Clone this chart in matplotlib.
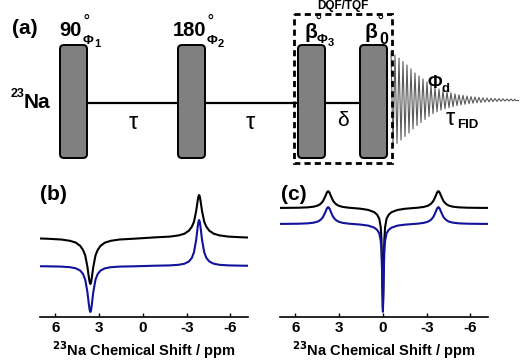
import matplotlib.pyplot as plt
import numpy as np
from matplotlib.patches import FancyBboxPatch, Rectangle

plt.rcParams['font.family'] = ['Liberation Sans', 'DejaVu Sans']

# ---- data ----
# panel (b): chemical shift (ppm) and trace heights (arbitrary units, traces offset)
ppm_b = [7.05, 6.6, 5.6, 5.0, 4.6, 4.3, 4.1, 3.95, 3.8, 3.7, 3.65, 3.6, 3.55, 3.5, 3.4,
         3.25, 3.1, 2.9, 2.6, 2.2, 1.6, 0.6,
         -0.85, -1.85, -2.45, -2.85, -3.15, -3.35, -3.5, -3.65, -3.75, -3.8, -3.85,
         -3.9, -3.95, -4.05, -4.2, -4.35, -4.55, -4.85, -5.25, -5.85, -6.85, -7.2]
exp_b = [78.5, 78.3, 77.5, 76.2, 74.4, 71.2, 67.0, 61.5, 50.0, 39.4, 34.8, 33.0, 34.8,
         39.4, 50.0, 61.5, 67.0, 71.2, 74.4, 76.2, 77.5, 78.3,
         79.65, 80.4, 81.6, 83.3, 86.3, 90.2, 95.3, 106.1, 116.0, 120.3, 122.0, 120.3,
         116.0, 106.1, 95.3, 90.2, 86.3, 83.3, 81.6, 80.4, 79.65, 79.5]
sim_b = [50.75, 50.7, 50.4, 49.8, 48.7, 46.5, 42.95, 37.2, 24.8, 12.4, 7.1, 5.0, 7.1,
         12.4, 24.8, 37.2, 42.95, 46.5, 48.7, 49.8, 50.4, 50.7,
         51.3, 51.6, 52.2, 53.3, 55.5, 59.05, 64.8, 77.2, 89.6, 94.9, 97.0, 94.9, 89.6,
         77.2, 64.8, 59.05, 55.5, 53.3, 52.2, 51.6, 51.3, 51.25]

# panel (c)
ppm_c = [7.05, 6.75, 5.75, 5.15, 4.75, 4.45, 4.25, 4.1, 3.95, 3.85, 3.8, 3.75, 3.7, 3.65,
         3.55, 3.4, 3.25, 3.05, 2.75, 2.35, 1.75, 1.5, 1.0, 0.6, 0.4, 0.25, 0.15, 0.1,
         0.06, 0.03, 0.0, -0.03, -0.06, -0.1, -0.15, -0.25, -0.4, -0.6, -1.0, -1.5, -1.8,
         -2.4, -2.8, -3.1, -3.3, -3.45, -3.6, -3.7, -3.75, -3.8, -3.85, -3.9, -4.0, -4.15,
         -4.3, -4.5, -4.8, -5.2, -5.8, -6.8, -7.2]
sim_c = [93.1, 93.12, 93.29, 93.66, 94.3, 95.5, 97.4, 100.0, 104.57, 108.16, 109.36,
         109.84, 109.34, 108.13, 104.53, 99.92, 97.3, 95.36, 94.11, 93.35, 92.67, 92.35,
         91.36, 89.4, 87.24, 83.6, 76.25, 65.7, 46.3, 21.6, 5.2, 21.6, 46.3, 65.7, 76.25,
         83.6, 87.24, 89.4, 91.37, 92.35, 92.69, 93.37, 94.12, 95.36, 97.3, 99.92, 104.53,
         108.14, 109.34, 109.84, 109.34, 108.14, 104.57, 99.98, 97.4, 95.5, 94.3, 93.66,
         93.29, 93.12, 93.1]
exp_c = [109.09, 109.11, 109.28, 109.65, 110.29, 111.48, 113.37, 115.96, 120.55, 124.14,
         125.33, 125.82, 125.32, 124.11, 120.51, 115.9, 113.28, 111.33, 110.07, 109.3,
         108.57, 108.22, 107.06, 104.9, 102.39, 98.3, 89.9, 78.0, 55.9, 27.9, 9.2, 27.9,
         55.9, 78.0, 89.9, 98.3, 102.39, 104.9, 107.07, 108.22, 108.6, 109.32, 110.08,
         111.33, 113.28, 115.9, 120.51, 124.12, 125.32, 125.82, 125.33, 124.14, 120.55,
         115.96, 113.37, 111.48, 110.29, 109.65, 109.28, 109.11, 109.09]

ticks = [6, 3, 0, -3, -6]
tick_labels = ["6", "3", "0", "-3", "-6"]

# pulse sequence (pixel layout of the schematic)
pulse_left = [60, 178, 298, 360]
pulse_width = 27
pulse_top, pulse_bottom = 45, 158
fid_amp = [48, 46.5, 45, 43.5, 42, 40, 38.5, 36.5, 35, 33, 31, 29, 27, 25.5, 24, 22.5,
           21, 19.5, 18, 16.5, 15, 13.7, 12.7, 11.8, 11, 10.2, 9.4, 8.8, 8.2, 7.6, 7.1,
           6.6, 6.1, 5.6, 5.2, 4.9, 4.6, 4.3, 4, 3.7, 3.4, 3.2, 3, 2.8, 2.6, 2.5, 2.3,
           2.2, 2, 1.9, 1.7, 1.6, 1.5, 1.4, 1.3, 1.2, 1.15, 1.1, 1.0, 1.0, 0.9, 0.9, 0.8]

BLUE = "#12129c"

fig = plt.figure(figsize=(5.2, 3.61), dpi=100)

# ---- (a) pulse sequence, drawn in pixel coordinates ----
ax = fig.add_axes([0, 0, 1, 1])
ax.set_xlim(0, 520)
ax.set_ylim(361, 0)
ax.axis("off")

ax.plot([pulse_left[0] + 10, pulse_left[3] + 10], [103, 103], color="black", lw=1.6, zorder=1)
for x0 in pulse_left:
    ax.add_patch(FancyBboxPatch((x0 + 2, pulse_top + 2), pulse_width - 4, pulse_bottom - pulse_top - 4,
                                boxstyle="round,pad=2,rounding_size=4",
                                fc="#808080", ec="black", lw=1.4, zorder=2))
ax.add_patch(Rectangle((294, 14), 98, 149, fill=False, ec="black", lw=2.0,
                       ls=(0, (2.2, 1.5)), zorder=3))

fid_x = 391 + 2 * np.arange(len(fid_amp))
fid_y = 100 + np.array(fid_amp) * np.where(np.arange(len(fid_amp)) % 2 == 0, -1, 1)
ax.plot(fid_x, fid_y, color="#5a5a5a", lw=0.8, zorder=2)
ax.plot([fid_x[-1], 518], [100, 100], color="#5a5a5a", lw=0.8)

ax.text(12, 29, "(a)", fontsize=15, fontweight="bold", va="center", ha="left")
ax.text(343, 6, "DQF/TQF", fontsize=8.5, fontweight="bold", ha="center", va="center")

# pulse labels: main, degree, subscript
deg = dict(fontsize=11, family="DejaVu Sans", va="center", ha="left")
ax.text(59, 31, "90", fontsize=14.5, fontweight="bold", va="center", ha="left")
ax.text(82, 21, "°", **deg)
ax.text(83, 41, "Φ", fontsize=9.5, fontweight="bold", va="center", ha="left")
ax.text(94, 44, "1", fontsize=8, fontweight="bold", va="center", ha="left")

ax.text(173, 31, "180", fontsize=14.5, fontweight="bold", va="center", ha="left")
ax.text(206, 21, "°", **deg)
ax.text(207, 41, "Φ", fontsize=9.5, fontweight="bold", va="center", ha="left")
ax.text(218, 44, "2", fontsize=8, fontweight="bold", va="center", ha="left")

ax.text(304, 32, "β", fontsize=15, fontweight="bold", va="center", ha="left")
ax.text(315, 21, "°", **deg)
ax.text(317, 40, "Φ", fontsize=9.5, fontweight="bold", va="center", ha="left")
ax.text(328, 43, "3", fontsize=8, fontweight="bold", va="center", ha="left")

ax.text(365, 32, "β", fontsize=15, fontweight="bold", va="center", ha="left")
ax.text(377, 21, "°", **deg)
ax.text(379, 39, "0", fontsize=11.5, fontweight="bold", va="center", ha="left")

ax.text(11, 94, "23", fontsize=9, fontweight="bold", va="center", ha="left")
ax.text(24, 103, "Na", fontsize=15, fontweight="bold", va="center", ha="left")

ax.text(133, 123, "τ", fontsize=17, ha="center", va="center")
ax.text(250, 123, "τ", fontsize=17, ha="center", va="center")
ax.text(343, 120, "δ", fontsize=15, ha="center", va="center")
ax.text(427, 84, "Φ", fontsize=13, fontweight="bold", ha="left", va="center")
ax.text(442, 89, "d", fontsize=9.5, fontweight="bold", ha="left", va="center")
ax.text(446, 119, "τ", fontsize=17, ha="left", va="center")
ax.text(457, 125, "FID", fontsize=9.5, fontweight="bold", ha="left", va="center")

# panel letters
ax.text(40, 195, "(b)", fontsize=15, fontweight="bold", va="center", ha="left")
ax.text(281, 195, "(c)", fontsize=15, fontweight="bold", va="center", ha="left")


def spectrum(rect, ppm, exp, sim):
    a = fig.add_axes(rect)
    a.plot(ppm, exp, color="black", lw=1.5)
    a.plot(ppm, sim, color=BLUE, lw=1.5)
    a.set_xlim(7.05, -7.2)
    a.set_ylim(0, 132)
    for s in ["top", "left", "right"]:
        a.spines[s].set_visible(False)
    a.spines["bottom"].set_linewidth(1.2)
    a.set_yticks([])
    a.set_xticks(ticks)
    a.set_xticklabels(tick_labels, fontweight="bold")
    a.tick_params(axis="x", direction="in", length=3, width=1, labelsize=11, pad=3)
    a.patch.set_alpha(0)
    a.set_xlabel(r"$^{\mathbf{23}}$Na Chemical Shift / ppm", fontsize=10.5,
                 fontweight="bold", labelpad=3)
    return a


spectrum([40 / 520, 44 / 361, 208 / 520, 132 / 361], ppm_b, exp_b, sim_b)
spectrum([280 / 520, 44 / 361, 208 / 520, 132 / 361], ppm_c, exp_c, sim_c)

fig.savefig("out.png", dpi=100)
